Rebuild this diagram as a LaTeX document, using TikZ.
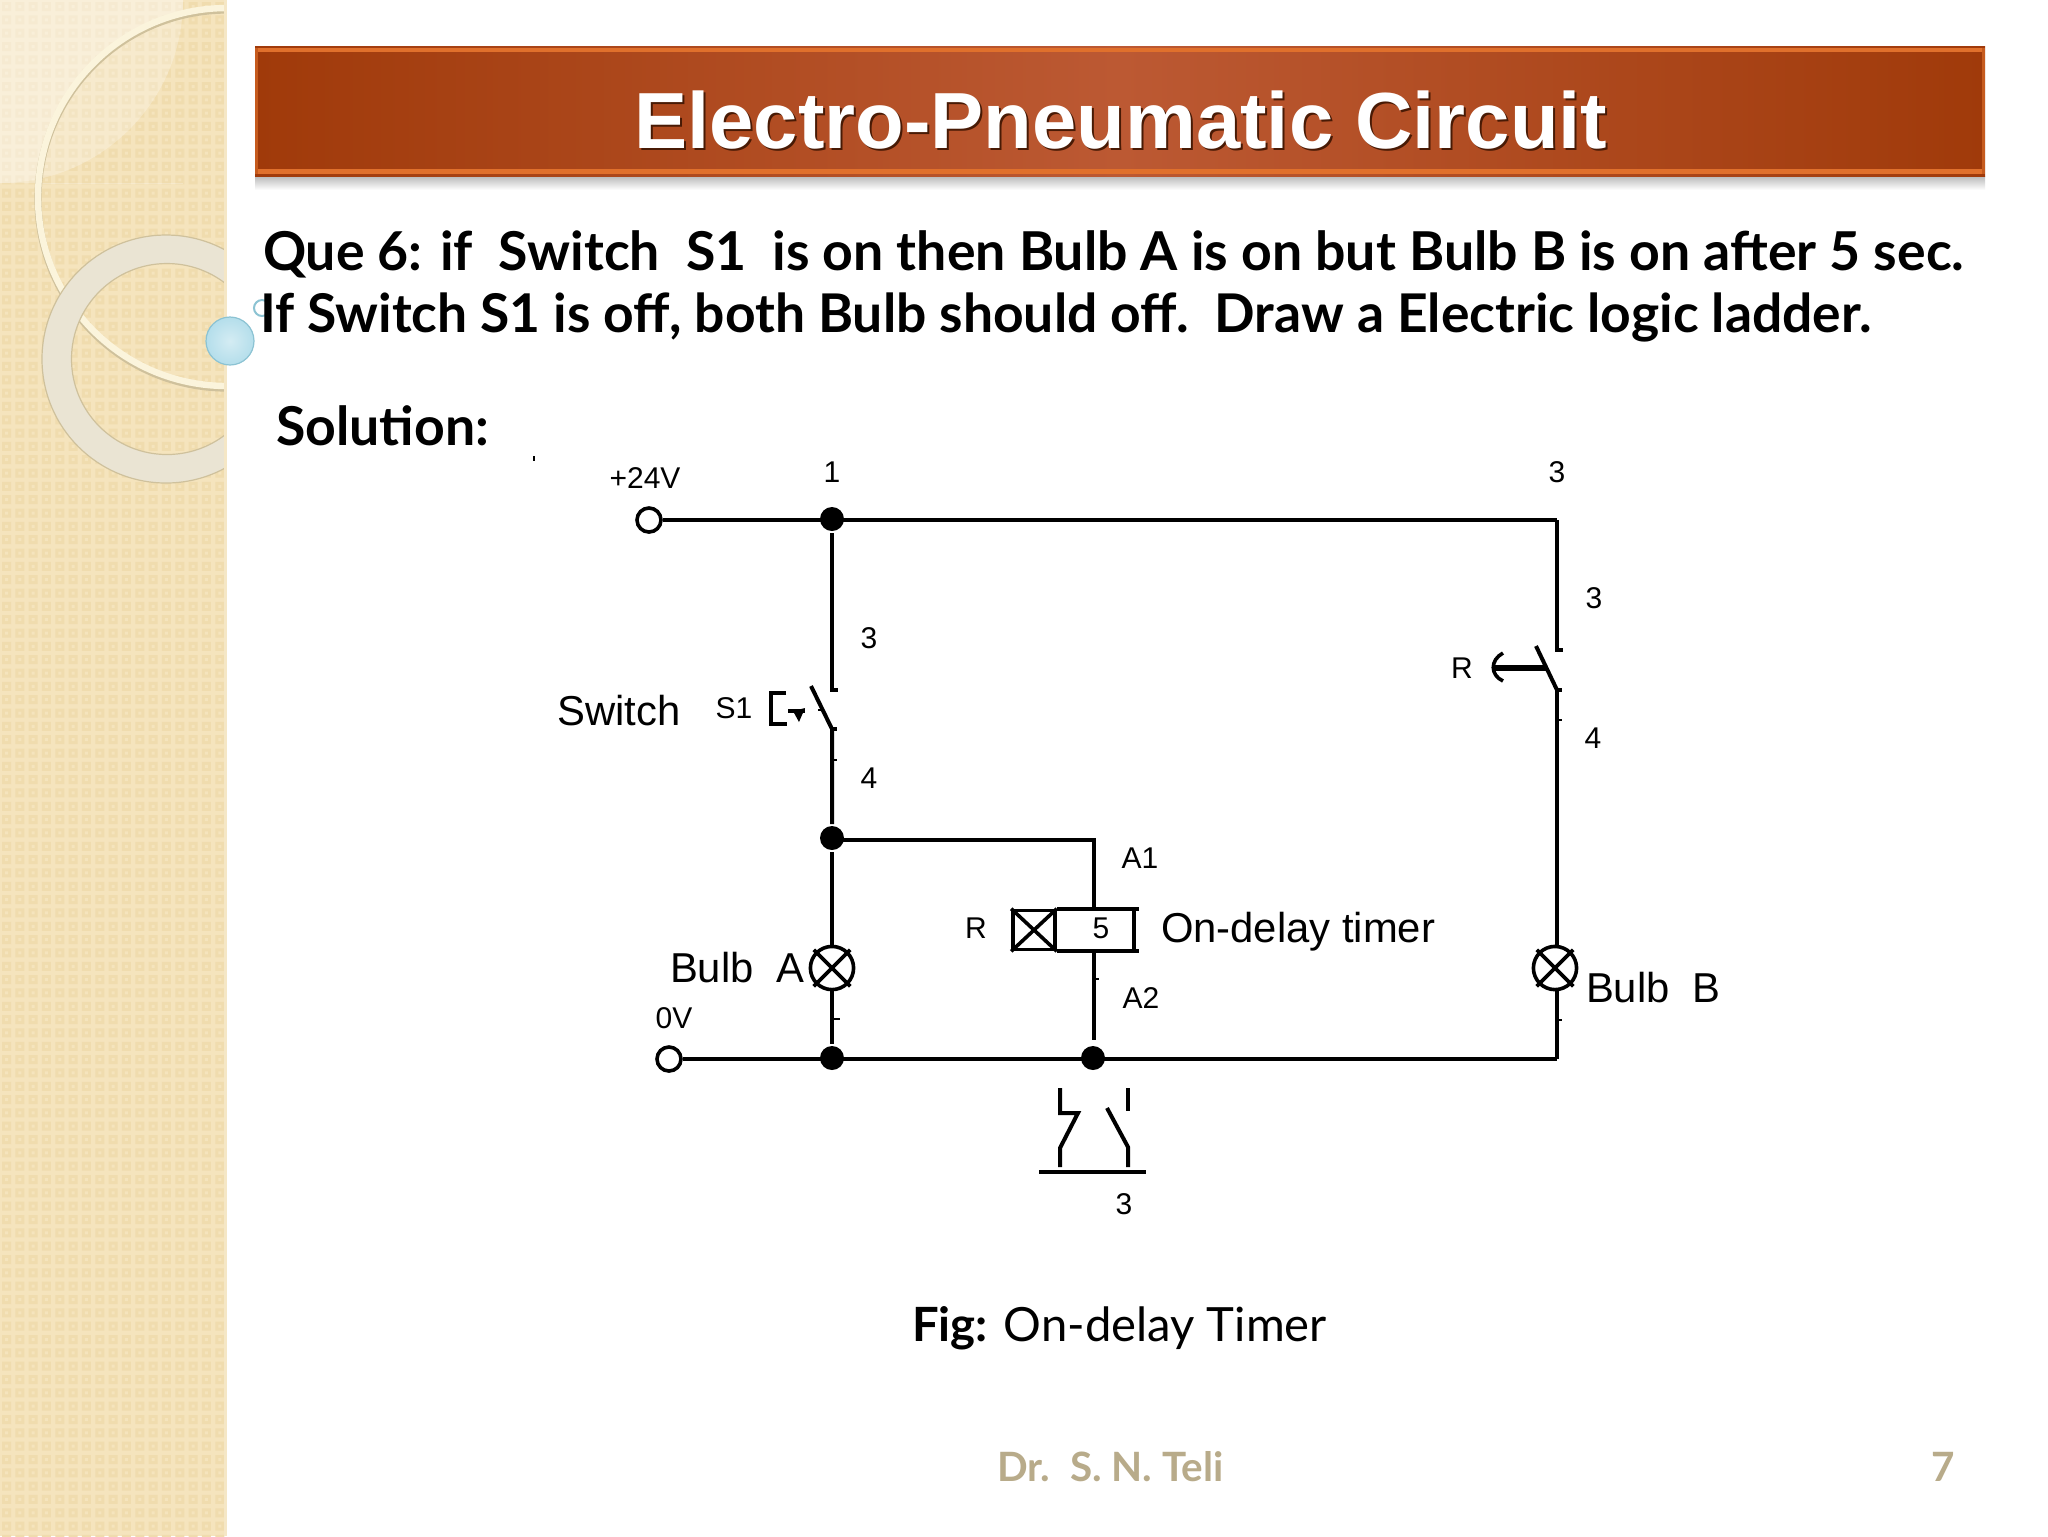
\documentclass[tikz,border=0pt]{standalone}
\usepackage{fontspec}
\setmainfont{Liberation Sans}
\newfontfamily\slidefont{Lato}
\definecolor{panelbase}{HTML}{F5E4BD}
\definecolor{paneldark}{HTML}{F0DCAE}
\definecolor{ringgrey}{HTML}{EAE4D3}
\definecolor{ringedge}{HTML}{CFC19C}
\definecolor{ringcream}{HTML}{FBF4DC}
\definecolor{bannerdark}{HTML}{A03A0A}
\definecolor{bannermid}{HTML}{BC5933}
\definecolor{bannerline}{HTML}{E0702C}
\definecolor{footertan}{HTML}{B8AB8A}
\definecolor{ballin}{HTML}{D4ECF3}
\definecolor{ballout}{HTML}{B4DEEB}
\definecolor{balledge}{HTML}{8CC3D3}
\tikzset{every picture/.style={line width=1pt}}
\tikzset{
  wire/.style={line width=1pt},
  jdot/.style={circle,fill=black,inner sep=0pt,minimum size=6pt},
  terminal/.style={circle,draw,line width=0.9pt,fill=white,inner sep=0pt,minimum size=6pt},
  bulbsym/.style={circle,draw,line width=0.9pt,fill=white,inner sep=0pt,minimum size=10.8pt},
  lblsmall/.style={inner sep=0pt,font=\fontsize{7.5}{9}\selectfont},
  lblbig/.style={inner sep=0pt,font=\fontsize{10.45}{12}\selectfont},
  slideline/.style={anchor=base west,inner sep=0pt,font=\slidefont\bfseries\fontsize{13.4}{16}\selectfont},
  footer/.style={anchor=base west,inner sep=0pt,text=footertan,font=\slidefont\bfseries\fontsize{10.1}{12}\selectfont},
}

\begin{document}
\begin{tikzpicture}[x=0.25pt,y=0.25pt,yscale=-1,xscale=1]
\useasboundingbox (0,0) rectangle (2048,1536);
\fill[white] (0,0) rectangle (2048,1536);

%Left panel
\fill[panelbase] (0,0) rectangle (226,1536);
\fill[paneldark] \foreach \i in {0,...,16} {\foreach \j in {0,...,115} {(\i*13.33+2,\j*13.33+2) rectangle ++(9,9)}};
\fill[panelbase] \foreach \i in {0,...,16} {\foreach \j in {0,...,115} {(\i*13.33+5,\j*13.33+5) rectangle ++(3,3)}};
\begin{scope}
\clip (0,0) rectangle (226,1536);
%Shape: light corner
\begin{scope}
\clip (0,0) rectangle (183,183);
\fill[white,opacity=0.25,even odd rule] (0,0) rectangle (183,183) (227,197) circle (189);
\fill[white,opacity=0.25] (0,0) circle (183);
\end{scope}
%Shape: thin ring
\draw[ringedge,line width=1.8pt] (227,199) circle (189);
\draw[ringcream,line width=1.6pt] (227,197) circle (189);
%Shape: wide ring
\fill[ringgrey,even odd rule] (166,359) circle (124) (167,359) circle (95.5);
\draw[ringedge,line width=0.3pt] (166,359) circle (124) (167,359) circle (95.5);
\end{scope}
\fill[paneldark!70!white] (224,0) rectangle (227,1536);
%Shape: ball
\draw[balledge,line width=0.5pt] (262,308) circle (8);
\shade[inner color=ballin,outer color=ballout,draw=balledge,line width=0.3pt] (230,341) circle (24);

%Shape: banner
\shade[top color=gray!55!white,bottom color=white] (255,176) rectangle (1985,190);
\shade[left color=bannerdark,right color=bannermid] (255,46) rectangle (1120,176);
\shade[left color=bannermid,right color=bannerdark] (1120,46) rectangle (1985,176);
\fill[bannerline] (255,48) rectangle (1985,52);
\fill[bannerline] (255,169) rectangle (1985,174);
\fill[bannerline!60!bannerdark] (255,48) rectangle (258,174);
\fill[bannerline!60!bannerdark] (1982,48) rectangle (1985,174);

% Text Node
\node (titleshadow) at (1123,122) [inner sep=0pt,text=black!55!bannerdark,font=\bfseries\fontsize{19.9}{24}\selectfont] {Electro-Pneumatic Circuit};
\node (title) at (1121,120) [inner sep=0pt,text=white,font=\bfseries\fontsize{19.9}{24}\selectfont] {Electro-Pneumatic Circuit};
\node (queone) at (261,270) [slideline] {Que 6: if\ \ Switch\ \ S1\ \ is on then Bulb A is on but Bulb B is on after 5 sec.};
\node (quetwo) at (258,332) [slideline,font=\slidefont\bfseries\fontsize{13.35}{16}\selectfont] {If Switch S1 is off, both Bulb should off.\ \ Draw a Electric logic ladder.};
\node (solution) at (274,445) [slideline] {Solution:};
\node (figcap) at (910,1341) [anchor=base west,inner sep=0pt,font=\slidefont\fontsize{11.8}{14}\selectfont] {\textbf{Fig:} On-delay Timer};
\node (author) at (995,1481) [footer] {Dr.\ \ S. N. Teli};
\node (pageno) at (1929,1481) [footer] {7};

%Junctions and terminals
\node[terminal] (vplus) at (649,520) {};
\node[jdot] (jtopleft) at (832,519) {};
\coordinate (ctopright) at (1557,520);
\node[jdot] (jmidleft) at (832,838) {};
\coordinate (cmidright) at (1094,840);
\node[terminal] (vzero) at (669,1059) {};
\node[jdot] (jbotleft) at (832,1058) {};
\node[jdot] (jbotmid) at (1093,1058) {};
\coordinate (cbotright) at (1557,1059);

%Straight Lines
\draw[wire] (vplus) -- (vplus-|jtopleft) -- (ctopright);
\draw[wire] (vzero) -- (vzero-|jbotleft) -- (vzero-|jbotmid) -- (cbotright);
\draw[wire] (jmidleft.center|-cmidright) -- (cmidright) -- (1094,910);

%Switch S1
\coordinate (sonetop) at (832,690);
\coordinate (sonebot) at (832,729);
\draw[wire] (jtopleft) -- (sonetop) -- ++(6,0);
\draw[wire] (811,686) -- (sonebot) -- (jmidleft);
\draw[wire] (sonebot) -- ++(5,0);
\draw[wire,line width=0.7pt] (832,760) -- ++(5,0);
\draw[wire] (786,693) -- (771,693) -- (771,724) -- (787,724);
\draw[line width=0.8pt] (788,711) -- (805,711);
\fill (793,711) -- (805,708) -- (799,722) -- cycle;
\draw[line width=0.7pt] (818,710) -- (821,710);

%Bulb A
\node[bulbsym] (bulba) at (832,968) {};
\draw[wire] (jmidleft) -- (bulba);
\draw[wire] (bulba) -- (jbotleft);
\draw[line width=0.9pt,shorten >=-0.6pt,shorten <=-0.6pt] (bulba.north west) -- (bulba.south east);
\draw[line width=0.9pt,shorten >=-0.6pt,shorten <=-0.6pt] (bulba.north east) -- (bulba.south west);
\draw[line width=0.7pt] (832,1019) -- ++(8,0);

%Timer coil
\node[draw,line width=0.9pt,inner sep=0pt,minimum width=10.5pt,minimum height=9.75pt] (coil) at (1034,930) {};
\draw[line width=0.9pt] (coil.north west) -- (coil.south east);
\draw[line width=0.9pt] (coil.north east) -- (coil.south west);
\coordinate (boxtop) at (1139,910);
\coordinate (boxbot) at (1139,949);
\draw[wire] (coil.north east) -- (coil.north east-|boxtop);
\draw[wire] (coil.south east) -- (coil.south east-|boxbot);
\draw[wire] (1134,910) -- (1134,949);
\draw[wire] (1094,949) -- (1094,1040);
\draw[wire,line width=0.7pt] (1094,979) -- ++(5,0);

%Contact of timer
\draw[wire] (1060,1088) -- (1060,1113) -- (1078,1113) -- (1060,1148) -- (1060,1167);
\draw[wire] (1128,1088) -- (1128,1111);
\draw[wire] (1107,1108) -- (1128,1147) -- (1128,1167);
\draw[wire] (1039,1172) -- (1146,1172);

%Contact R and bulb B
\coordinate (rtop) at (1557,650);
\coordinate (rbot) at (1557,690);
\draw[wire] (ctopright) -- (rtop) -- ++(6,0);
\draw[wire] (1536,646) -- (rbot);
\draw[wire] (rbot) -- ++(5,0);
\draw[wire,line width=0.7pt] (1557,720) -- ++(5,0);
\draw[line width=1.7pt] (1495,668) -- (1547,668);
\draw[wire,line width=0.9pt] (1503,653) .. controls (1490,660) and (1490,675) .. (1503,681);
\node[bulbsym] (bulbb) at (1555,968) {};
\draw[wire] (rbot) -- (bulbb.north-|rbot);
\draw[wire] (bulbb.south-|rbot) -- (cbotright);
\draw[line width=0.9pt,shorten >=-0.6pt,shorten <=-0.6pt] (bulbb.north west) -- (bulbb.south east);
\draw[line width=0.9pt,shorten >=-0.6pt,shorten <=-0.6pt] (bulbb.north east) -- (bulbb.south west);
\draw[line width=0.7pt] (1557,1020) -- ++(5,0);
\draw[line width=0.7pt] (534,456) -- (534,461);

% Text Node
\node (lblplus) at (645,478) [lblsmall] {+24V};
\node (lblone) at (832,472) [lblsmall] {1};
\node (lbltopthree) at (1557,472) [lblsmall] {3};
\node (lblsthree) at (869,638) [lblsmall] {3};
\node (lblsfour) at (869,778) [lblsmall] {4};
\node (lblsone) at (734,708) [lblsmall] {S1};
\node (lblswitch) at (619,711) [lblbig] {Switch};
\node (lblrthree) at (1594,598) [lblsmall] {3};
\node (lblrfour) at (1593,738) [lblsmall] {4};
\node (lblr) at (1462,668) [lblsmall] {R};
\node (lblaone) at (1140,858) [lblsmall] {A1};
\node (lblatwo) at (1141,998) [lblsmall] {A2};
\node (lblcoilr) at (976,928) [lblsmall] {R};
\node (lblfive) at (1101,928) [lblsmall] {5};
\node (lbltimer) at (1159,932) [lblbig,anchor=west] {On-delay timer};
\node (lblbulba) at (668,968) [lblbig,anchor=west] {Bulb\ \ A};
\node (lblbulbb) at (1584,988) [lblbig,anchor=west] {Bulb\ \ B};
\node (lblzero) at (674,1018) [lblsmall] {0V};
\node (lblcontact) at (1124,1204) [lblsmall] {3};
\end{tikzpicture}
\end{document}
